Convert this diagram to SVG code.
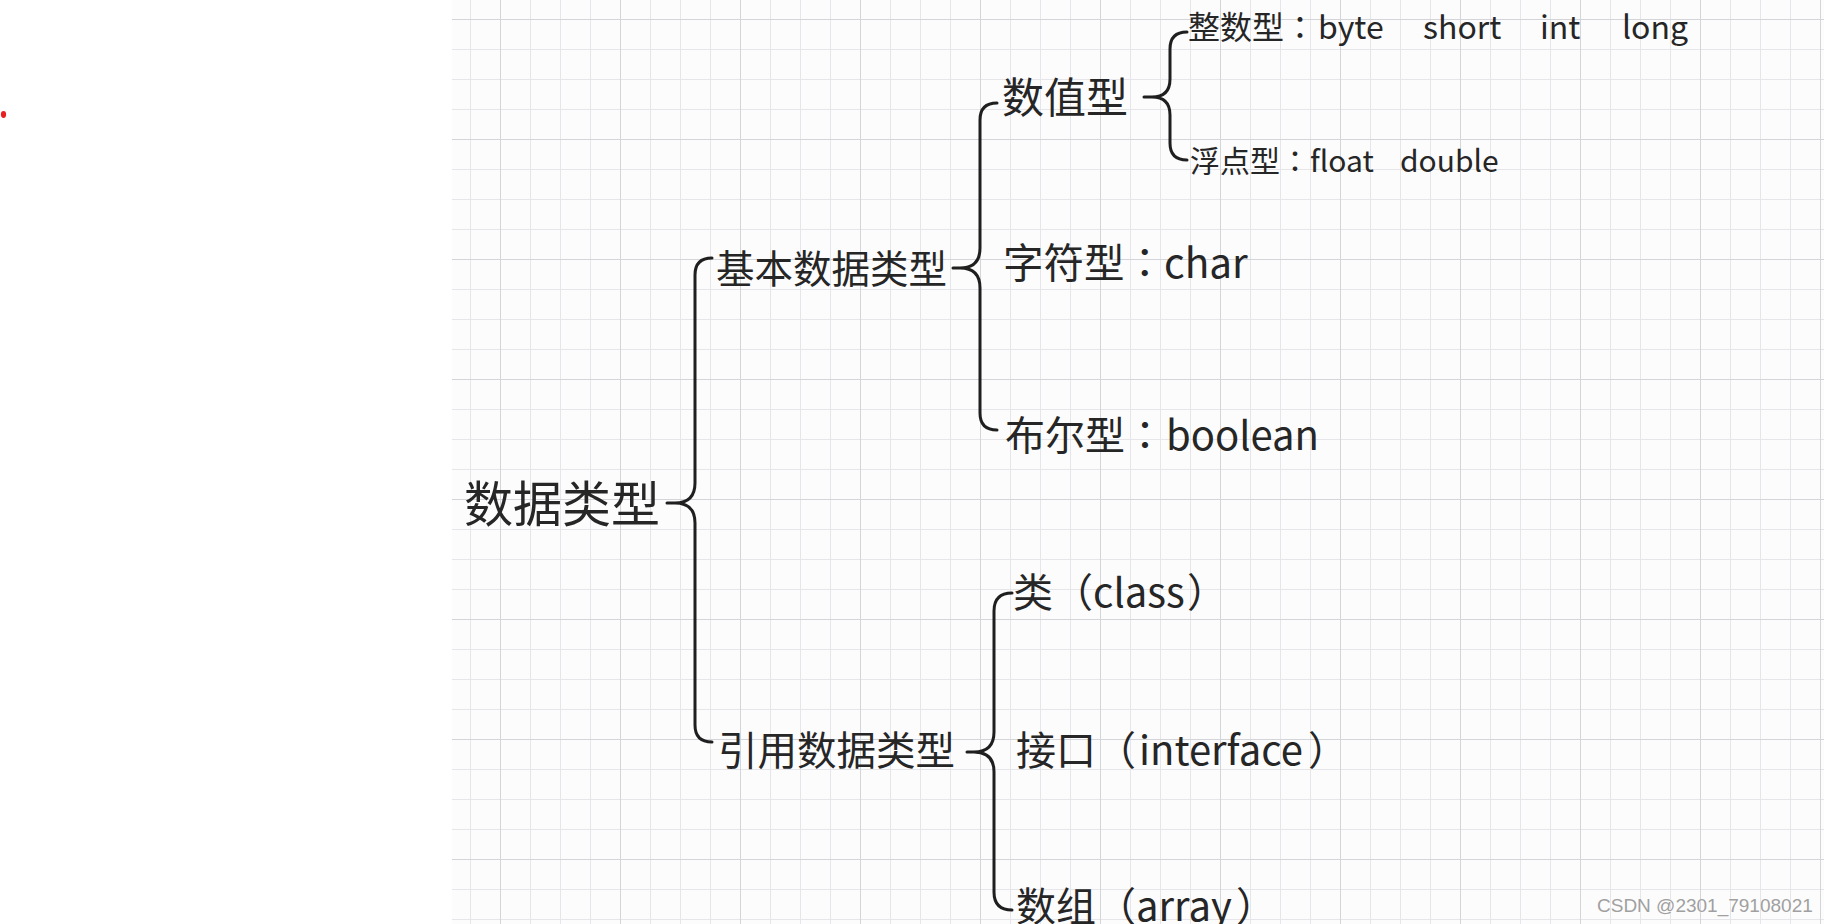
<svg xmlns="http://www.w3.org/2000/svg" width="1824" height="924" viewBox="0 0 1824 924">
  <style>
    .t { font-family: "Noto Sans CJK SC", "Noto Sans", sans-serif; fill: #262626; }
    .p { font-family: "Noto Sans CJK TC", "Noto Sans CJK SC", sans-serif; }
    .brace { fill: none; stroke: #1f1f1f; stroke-width: 3; stroke-linecap: round; stroke-linejoin: round; }
    .wm { font-family: "Liberation Sans", Arial, sans-serif; font-size: 19px; fill: #a0a0a0; stroke: #ffffff; stroke-width: 0.6; paint-order: stroke; }
  </style>
  <defs>
    <pattern id="grid" patternUnits="userSpaceOnUse" x="500" y="19" width="120" height="120">
      <rect width="120" height="120" fill="#fcfcfd"/>
      <path d="M30.5 0V120M60.5 0V120M90.5 0V120M0 30.5H120M0 60.5H120M0 90.5H120" stroke="#e5e5ea" stroke-width="1"/>
      <path d="M0.5 0V120M0 0.5H120" stroke="#d4d4db" stroke-width="1"/>
    </pattern>
  </defs>

  <rect x="0" y="0" width="1824" height="924" fill="#ffffff"/>
  <rect x="452" y="0" width="1372" height="924" fill="url(#grid)"/>
  <ellipse cx="3.5" cy="114.5" rx="2.6" ry="3.4" fill="#e82020"/>

  <g id="connectors">
    <path class="brace" d="M712 258 Q695 258 695 275 L695 483 Q695 503 675 503 L667 503 M667 503 L675 503 Q695 503 695 523 L695 725 Q695 742 712 742"/>
    <path class="brace" d="M997 103 Q980 103 980 120 L980 248 Q980 268 960 268 L953 268 M953 268 L960 268 Q980 268 980 288 L980 413 Q980 430 997 430"/>
    <path class="brace" d="M1187 32 Q1170 32 1170 49 L1170 79 Q1170 97 1152 97 L1144 97 M1144 97 L1152 97 Q1170 97 1170 115 L1170 143 Q1170 160 1187 160"/>
    <path class="brace" d="M1012 593 Q994 593 994 611 L994 732 Q994 752 974 752 L967 752 M967 752 L974 752 Q994 752 994 772 L994 892 Q994 910 1012 910"/>
  </g>

  <g id="node-root">
    <text class="t" x="464" y="522" font-size="49">数据类型</text>
  </g>
  <g id="node-basic">
    <text class="t" x="716" y="283" font-size="38.5">基本数据类型</text>
  </g>
  <g id="node-reference">
    <text class="t" x="718" y="765" font-size="39.5">引用数据类型</text>
  </g>
  <g id="node-numeric">
    <text class="t" x="1002" y="113" font-size="42">数值型</text>
  </g>
  <g id="node-integer">
    <text class="t" x="1188" y="39" font-size="32">整数型<tspan class="p">：</tspan><tspan x="1318">byte</tspan><tspan x="1423">short</tspan><tspan x="1540">int</tspan><tspan x="1622">long</tspan></text>
  </g>
  <g id="node-float">
    <text class="t" x="1190" y="172" font-size="30">浮点型<tspan class="p">：</tspan><tspan x="1310">float</tspan><tspan x="1400">double</tspan></text>
  </g>
  <g id="node-char">
    <text class="t" x="1003" y="278" font-size="40.5">字符型<tspan class="p">：</tspan><tspan x="1164">char</tspan></text>
  </g>
  <g id="node-boolean">
    <text class="t" x="1005" y="450" font-size="40">布尔型<tspan class="p">：</tspan><tspan x="1166">boolean</tspan></text>
  </g>
  <g id="node-class">
    <text class="t" x="1013" y="607" font-size="40">类（<tspan x="1093">class</tspan><tspan x="1187">）</tspan></text>
  </g>
  <g id="node-interface">
    <text class="t" x="1016" y="765" font-size="40">接口（<tspan x="1139">interface</tspan><tspan x="1308">）</tspan></text>
  </g>
  <g id="node-array">
    <text class="t" x="1016" y="921" font-size="40">数组（<tspan x="1136">array</tspan><tspan x="1236">）</tspan></text>
  </g>

  <text class="wm" x="1597" y="912">CSDN @2301_79108021</text>
</svg>
